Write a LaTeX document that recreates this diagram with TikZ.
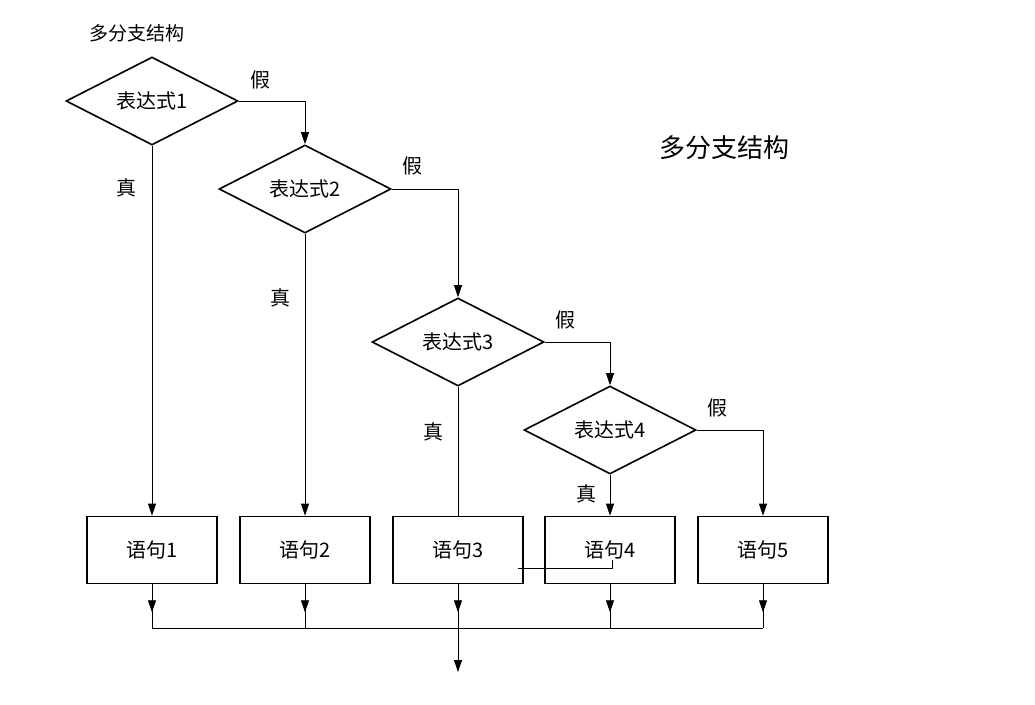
\documentclass[tikz,border=0pt]{standalone}
\usepackage{fontspec}
\setmainfont{Liberation Serif}
\newfontfamily\cjk{Noto Sans CJK SC}
\usetikzlibrary{shapes.geometric,arrows.meta}
\begin{document}
\begin{tikzpicture}[x=1pt,y=-1pt,
 dia/.style={draw,line width=1.6pt,diamond,aspect=2,minimum width=172pt,minimum height=88pt,inner sep=0pt,font=\cjk\fontsize{20}{24}\selectfont},
 box/.style={draw,line width=1.6pt,minimum width=130pt,minimum height=67pt,font=\cjk\fontsize{20}{24}\selectfont},
 arr/.style={-{Triangle[length=12pt,width=8pt]},line width=0.8pt},
 ln/.style={line width=0.8pt},
 lab/.style={font=\cjk\fontsize{20}{24}\selectfont}]
\useasboundingbox (0,0) rectangle (1035,704);
\node[font=\cjk\fontsize{19}{22}\selectfont] (t1) at (137,33) {多分支结构};
\node[font=\cjk\fontsize{26}{30}\selectfont] (t2) at (724,148) {多分支结构};
\node[dia] (d1) at (152,101) {表达式1};
\node[dia] (d2) at (305,189) {表达式2};
\node[dia] (d3) at (458,342) {表达式3};
\node[dia] (d4) at (610,430) {表达式4};
\foreach \i/\x in {1/152,2/305,3/458,4/610,5/763}{
 \node[box] (b\i) at (\x,550) {语句\i};
 \coordinate (m\i) at (\x,628);
 \draw[arr] (b\i.south) -- ++(0,28);
 \draw[ln] (b\i.south) -- (m\i);
}
\draw[ln] (m1) -- (m5);
\coordinate (out) at (458,672);
\draw[arr] (m3) -- (out);
\draw[arr] (d1.south) -- (b1.north);
\draw[arr] (d2.south) -- (b2.north);
\draw[ln] (d3.south) -- (b3.north);
\draw[arr] (d4.south) -- (b4.north);
\draw[arr] (d1.east) -| (d2.north);
\draw[arr] (d2.east) -| (d3.north);
\draw[arr] (d3.east) -| (d4.north);
\draw[arr] (d4.east) -| (b5.north);
\coordinate (s1) at (518,568); \coordinate (s2) at (612,568);
\draw[ln] (s1) -- (s2) -- ++(0,-8);
\node[lab] at (260,80) {假};
\node[lab] at (412,166) {假};
\node[lab] at (565,320) {假};
\node[lab] at (717,408) {假};
\node[lab] at (126,188) {真};
\node[lab] at (280,298) {真};
\node[lab] at (433,432) {真};
\node[lab] at (586,494) {真};
\end{tikzpicture}
\end{document}
